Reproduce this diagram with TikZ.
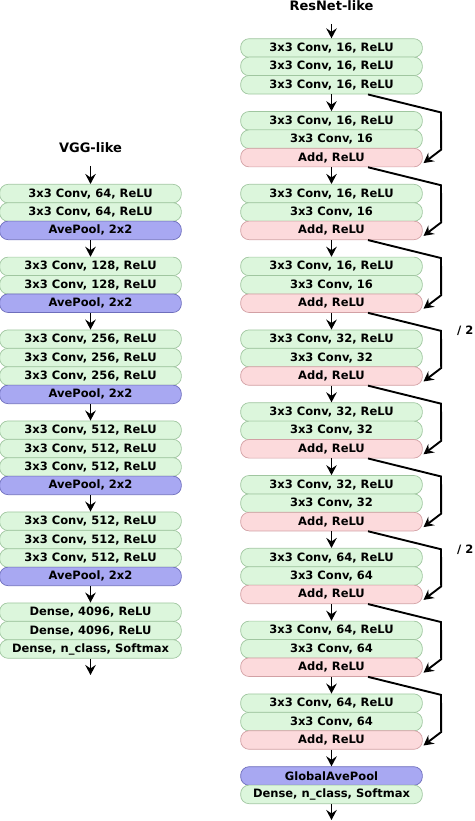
\documentclass[tikz,border=0pt]{standalone}
\usepackage{fontspec}
\setmainfont{DejaVu Sans}
\usetikzlibrary{arrows.meta,calc}
\definecolor{gfill}{RGB}{220,246,220}
\definecolor{gdraw}{RGB}{160,198,160}
\definecolor{pfill}{RGB}{252,218,220}
\definecolor{pdraw}{RGB}{210,160,164}
\definecolor{bfill}{RGB}{168,168,242}
\definecolor{bdraw}{RGB}{110,110,188}
\tikzset{
  row/.style={draw, line width=0.7pt, rounded corners=8.5pt, minimum width=181.7pt,
    minimum height=18.6pt, inner sep=0pt, font=\fontsize{11.5}{13}\selectfont\bfseries},
  conv/.style={row, fill=gfill, draw=gdraw},
  addrow/.style={row, fill=pfill, draw=pdraw},
  pool/.style={row, fill=bfill, draw=bdraw},
  arr/.style={line width=1.9pt, -{Stealth[length=10pt,width=10.5pt,inset=3.5pt]}},
  skip/.style={line width=1.9pt, line join=miter, -{Stealth[length=10pt,width=10.5pt,inset=3.5pt]}},
  ttl/.style={font=\fontsize{13}{15}\selectfont\bfseries},
  lbl/.style={font=\fontsize{11.5}{13}\selectfont\bfseries, inner sep=0pt}
}
\begin{document}
\begin{tikzpicture}[x=1pt,y=-1pt]
\useasboundingbox (0,0) rectangle (474,821);

% ---------------- ResNet-like ----------------
\node[ttl] (rt) at (331.5,6) {ResNet-like};
\coordinate (rin) at (331.5,24);
\node[conv] (ra0) at (331.5,48) {3x3 Conv, 16, ReLU};
\node[conv] (rb0) at (331.5,66.4) {3x3 Conv, 16, ReLU};
\node[conv] (rc0) at (331.5,84.8) {3x3 Conv, 16, ReLU};
\foreach \k/\n in {1/16,2/16,3/16,4/32,5/32,6/32,7/64,8/64,9/64} {
  \pgfmathsetmacro\yy{48+72.8*\k}
  \node[conv] (ra\k) at (331.5,\yy) {3x3 Conv, \n, ReLU};
  \node[conv] (rb\k) at (331.5,{\yy+18.4}) {3x3 Conv, \n};
  \node[addrow] (rc\k) at (331.5,{\yy+36.8}) {Add, ReLU};
}
\node[pool] (rgp) at (331.5,776) {GlobalAvePool};
\node[conv] (rd) at (331.5,794.4) {Dense, n\_class, Softmax};
\coordinate (rout) at (331.5,820);

\draw[arr] (rin) -- (ra0.north);
\foreach \k [evaluate=\k as \j using int(\k-1)] in {1,...,9} {
  \draw[arr] (rc\j.south) -- (ra\k.north);
  \draw[skip] ($(rc\j.south)+(36.5,0)$) -- ($(rc\j.south)+(109.5,18)$)
    -- ($(rc\k.east)+(18.5,-8)$) -- ($(rc\k.east)+(0.8,5.5)$);
}
\draw[arr] (rc9.south) -- (rgp.north);
\draw[arr] (rd.south) -- (rout);

\node[lbl, anchor=west] (h1) at (457,331) {/ 2};
\node[lbl, anchor=west] (h2) at (457,549.4) {/ 2};

% ---------------- VGG-like ----------------
\node[ttl] (vt) at (90.5,148) {VGG-like};
\coordinate (vin) at (90.5,166);
\node[conv] (v1a) at (90.5,193.6) {3x3 Conv, 64, ReLU};
\node[conv] (v1b) at (90.5,212.0) {3x3 Conv, 64, ReLU};
\node[pool] (v1c) at (90.5,230.4) {AvePool, 2x2};

\node[conv] (v2a) at (90.5,266.4) {3x3 Conv, 128, ReLU};
\node[conv] (v2b) at (90.5,284.8) {3x3 Conv, 128, ReLU};
\node[pool] (v2c) at (90.5,303.2) {AvePool, 2x2};

\node[conv] (v3a) at (90.5,339.2) {3x3 Conv, 256, ReLU};
\node[conv] (v3b) at (90.5,357.6) {3x3 Conv, 256, ReLU};
\node[conv] (v3c) at (90.5,376.0) {3x3 Conv, 256, ReLU};
\node[pool] (v3d) at (90.5,394.4) {AvePool, 2x2};

\node[conv] (v4a) at (90.5,430.2) {3x3 Conv, 512, ReLU};
\node[conv] (v4b) at (90.5,448.6) {3x3 Conv, 512, ReLU};
\node[conv] (v4c) at (90.5,467.0) {3x3 Conv, 512, ReLU};
\node[pool] (v4d) at (90.5,485.4) {AvePool, 2x2};

\node[conv] (v5a) at (90.5,521.2) {3x3 Conv, 512, ReLU};
\node[conv] (v5b) at (90.5,539.6) {3x3 Conv, 512, ReLU};
\node[conv] (v5c) at (90.5,558.0) {3x3 Conv, 512, ReLU};
\node[pool] (v5d) at (90.5,576.4) {AvePool, 2x2};

\node[conv] (v6a) at (90.5,612.2) {Dense, 4096, ReLU};
\node[conv] (v6b) at (90.5,630.6) {Dense, 4096, ReLU};
\node[conv] (v6c) at (90.5,649.0) {Dense, n\_class, Softmax};
\coordinate (vout) at (90.5,675);

\draw[arr] (vin) -- (v1a.north);
\draw[arr] (v1c.south) -- (v2a.north);
\draw[arr] (v2c.south) -- (v3a.north);
\draw[arr] (v3d.south) -- (v4a.north);
\draw[arr] (v4d.south) -- (v5a.north);
\draw[arr] (v5d.south) -- (v6a.north);
\draw[arr] (v6c.south) -- (vout);
\end{tikzpicture}
\end{document}
